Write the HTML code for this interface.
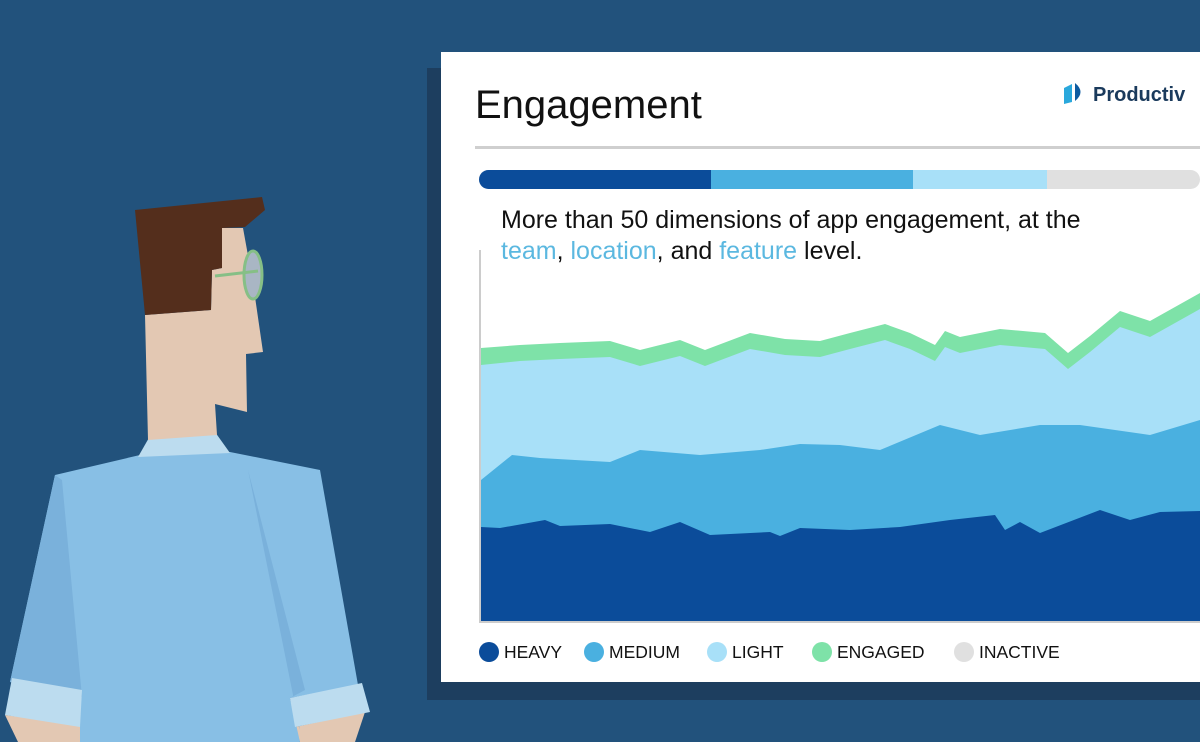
<!DOCTYPE html>
<html><head><meta charset="utf-8"><style>
body{margin:0;width:1200px;height:742px;overflow:hidden;background:#22527c;font-family:"Liberation Sans",sans-serif}
</style></head><body>
<svg width="1200" height="742" viewBox="0 0 1200 742" style="position:absolute;left:0;top:0">
<rect x="0" y="0" width="1200" height="742" fill="#22527c"/>
<rect x="427" y="68" width="780" height="632" fill="#1d3e5f"/>
<rect x="441" y="52" width="770" height="630" fill="#ffffff"/>
<text x="475" y="118" font-size="40" fill="#111" font-family="Liberation Sans, sans-serif">Engagement</text>
<g>
<path d="M1064 88 L1072 84 L1072 102 L1064 104 Z" fill="#2aa8dc"/>
<path d="M1075 83 Q1086 92 1075 101 Z" fill="#0d5aa0"/>
<text x="1093" y="101" font-size="20" font-weight="bold" fill="#1a3a5c" font-family="Liberation Sans, sans-serif">Productiv</text>
</g>
<rect x="475" y="146" width="725" height="3" fill="#cfcfcf"/>
<rect x="479" y="170" width="721" height="19" rx="9.5" fill="#e0e0e0"/>
<rect x="1040" y="170" width="10" height="19" fill="#e0e0e0"/>
<path d="M488.5 170 H711 V189 H488.5 A9.5 9.5 0 0 1 488.5 170 Z" fill="#0b4c9a"/>
<rect x="711" y="170" width="202" height="19" fill="#4ab0e0"/>
<rect x="913" y="170" width="134" height="19" fill="#a8e0f8"/>
<text x="501" y="228" font-size="25" fill="#111" font-family="Liberation Sans, sans-serif">More than 50 dimensions of app engagement, at the</text>
<text x="501" y="259" font-size="25" fill="#111" font-family="Liberation Sans, sans-serif"><tspan fill="#5bb8e0">team</tspan>, <tspan fill="#5bb8e0">location</tspan>, and <tspan fill="#5bb8e0">feature</tspan> level.</text>
<rect x="479" y="250" width="2" height="372" fill="#cccccc"/>
<rect x="479" y="620" width="721" height="3" fill="#cccccc"/>
<polygon fill="#7ee2a8" points="481,348 520,345 560,343 610,341 640,350 680,340 705,350 750,333 785,339 820,341 850,333 885,324 910,333 935,345 945,331 960,337 1000,329 1045,333 1068,353 1090,336 1120,311 1150,321 1200,293 1200,621 481,621"/>
<polygon fill="#a8e0f8" points="481,365 520,361 560,359 610,357 640,366 680,356 705,366 750,349 785,355 820,357 850,349 885,340 910,349 935,361 945,347 960,353 1000,345 1045,349 1068,369 1090,352 1120,327 1150,337 1200,309 1200,621 481,621"/>
<polygon fill="#4ab0e0" points="481,480 512,455 540,458 610,462 640,450 700,455 760,450 800,444 840,445 880,450 940,425 980,435 1040,425 1080,425 1150,435 1200,420 1200,621 481,621"/>
<polygon fill="#0b4c9a" points="481,527 500,528 545,520 560,526 610,524 650,532 680,522 710,535 770,532 780,536 800,528 850,530 900,527 950,520 995,515 1005,530 1020,522 1040,533 1100,510 1130,520 1160,512 1200,511 1200,621 481,621"/>
<g font-size="17.5" fill="#111" font-family="Liberation Sans, sans-serif">
<circle cx="489" cy="652" r="10" fill="#0b4c9a"/><text x="504" y="658">HEAVY</text>
<circle cx="594" cy="652" r="10" fill="#4ab0e0"/><text x="609" y="658">MEDIUM</text>
<circle cx="717" cy="652" r="10" fill="#a8e0f8"/><text x="732" y="658">LIGHT</text>
<circle cx="822" cy="652" r="10" fill="#7ee2a8"/><text x="837" y="658">ENGAGED</text>
<circle cx="964" cy="652" r="10" fill="#e0e0e0"/><text x="979" y="658">INACTIVE</text>
</g>
<polygon fill="#e3c8b3" points="5,715 80,725 80,742 18,742"/>
<polygon fill="#e3c8b3" points="295,727 365,712 355,742 300,742"/>
<polygon fill="#88bfe5" points="55,475 140,455 230,452 320,470 358,685 290,698 300,742 80,742 80,695 10,682"/>
<polygon fill="#7ab1db" points="55,475 62,480 82,697 10,682"/>
<polygon fill="#7ab1db" points="248,470 300,730 290,698 305,690"/>
<polygon fill="#bcdcef" points="12,678 82,690 80,727 5,715"/>
<polygon fill="#bcdcef" points="290,698 362,683 370,712 295,727"/>
<polygon fill="#bcdcef" points="150,436 215,432 230,453 138,457"/>
<polygon fill="#e3c8b3" points="222,228 243,228 247,250 254,290 263,352 246,354 247,412 215,404 217,435 148,440 145,315 211,310 212,270 222,268"/>
<polygon fill="#542e1c" points="135,210 262,197 265,210 245,227 222,228 222,268 212,270 211,310 145,315"/>
<ellipse cx="253" cy="275" rx="9" ry="24" fill="#a9b6c4" stroke="#86bf86" stroke-width="3"/>
<line x1="215" y1="276" x2="258" y2="271" stroke="#86bf86" stroke-width="3"/>
</svg>
</body></html>
